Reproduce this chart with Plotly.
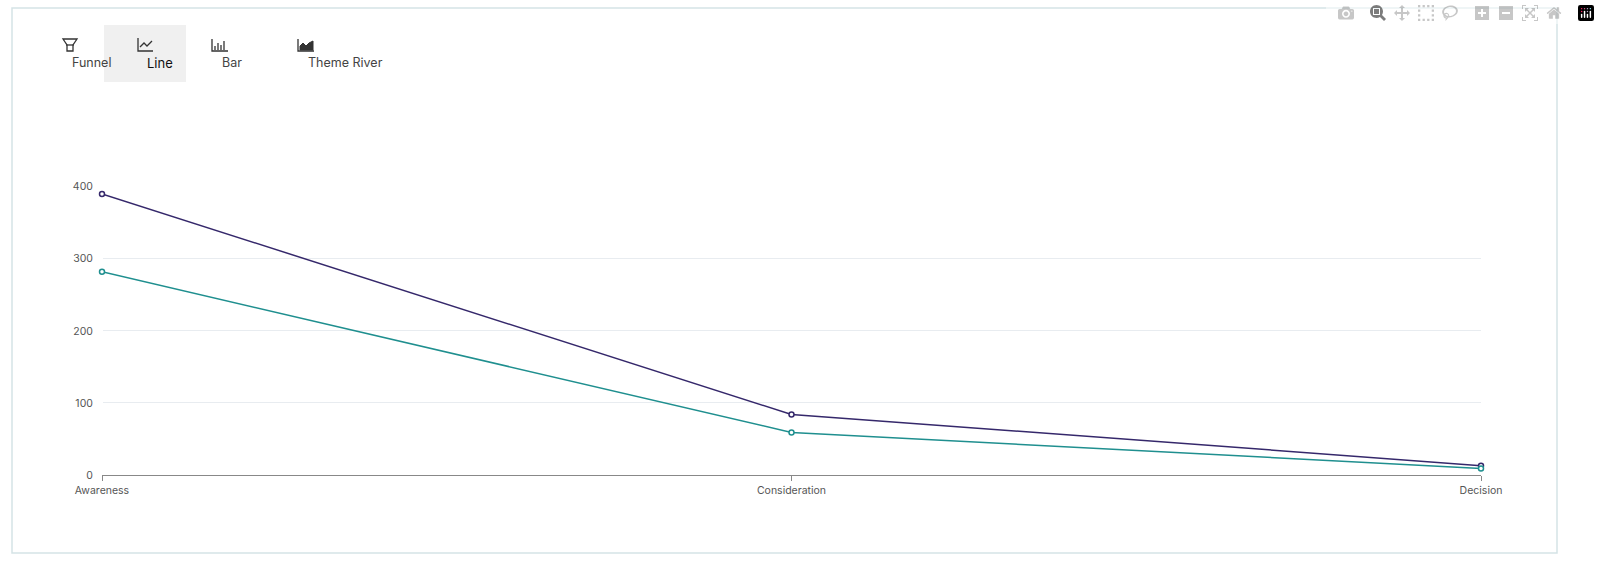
import plotly.graph_objects as go

categories = ["Awareness", "Consideration", "Decision"]
series_a = [390, 84, 13]
series_b = [282, 59, 9]
y_ticks = [0, 100, 200, 300, 400]

W, H = 1600, 576
L, R, T, B = 102, 1481, 186, 475
def px(x): return (x - L) / (R - L)
def py(y): return (B - y) / (B - T)
def path(pts, close=False):
    s = "M" + " L".join(f"{px(x)},{py(y)}" for x, y in pts)
    return s + (" Z" if close else "")

fig = go.Figure()
for vals, col in [(series_a, "#35286b"), (series_b, "#1f8f8f")]:
    fig.add_trace(go.Scatter(x=list(range(len(categories))), y=vals, mode="lines+markers",
        line=dict(color=col, width=1.5), cliponaxis=False,
        marker=dict(symbol="circle", size=5, color="white", line=dict(color=col, width=1.5)),
        showlegend=False))

shapes = []
shapes.append(dict(type="rect", xref="paper", yref="paper", x0=px(12), x1=px(1557), y0=py(553), y1=py(8),
                   line=dict(color="#d5e3e6", width=1.5), fillcolor="rgba(0,0,0,0)", layer="below"))
shapes.append(dict(type="rect", xref="paper", yref="paper", x0=px(104), x1=px(186), y0=py(82), y1=py(25),
                   line=dict(width=0), fillcolor="#f0f0f0", layer="below"))
ic = dict(type="path", xref="paper", yref="paper", line=dict(color="#333", width=1.3))
shapes.append(dict(ic, path=path([(63,39),(77,39),(73,45),(73,51),(67,51),(67,45)], True)))
shapes.append(dict(ic, path=path([(66,45),(74,45)])))
shapes.append(dict(ic, path=path([(138,38),(138,51),(153,51)])))
shapes.append(dict(ic, path=path([(140,47),(144,43),(147,46),(152,41)])))
shapes.append(dict(ic, path=path([(212,39),(212,51),(228,51)])))
for x, h in [(215,4),(218,7),(221,5),(224,9)]:
    shapes.append(dict(ic, path=path([(x,50),(x,50-h)])))
shapes.append(dict(ic, path=path([(298,39),(298,51),(314,51)])))
shapes.append(dict(type="path", xref="paper", yref="paper", line=dict(color="#333", width=1), fillcolor="#333",
                   path=path([(300,50),(300,46),(303,43),(306,46),(309,43),(313,41),(313,50)], True)))

ann = []
for x, t, c in [(70,"Funnel","#444"),(145,"Line","#111"),(220,"Bar","#444"),(306,"Theme River","#444")]:
    ann.append(dict(xref="paper", yref="paper", x=px(x), y=py(63), yanchor="middle", text=t, showarrow=False,
                    font=dict(size=13 if t=="Line" else 12.5, color=c, family="Inter, Noto Sans, sans-serif")))

fig.update_layout(width=W, height=H, margin=dict(l=L, r=W-R, t=T, b=H-B),
    paper_bgcolor="white", plot_bgcolor="white", shapes=shapes, annotations=ann,
    font=dict(family="Inter, Noto Sans, sans-serif", size=11, color="#555"),
    xaxis=dict(range=[0, 2], tickvals=[0,1,2], ticktext=categories, showgrid=False,
               showline=True, linecolor="#888", ticks="outside", ticklen=5, tickcolor="#888",
               tickfont=dict(size=10.5, color="#555")),
    yaxis=dict(range=[0, 401], tickvals=y_ticks, gridcolor="#e8ecf0", zeroline=False,
               showline=False, tickfont=dict(size=10.5, color="#555"), ticklen=6, ticks="outside", tickcolor="white"))
fig.write_html("out.html")
with open("out.html", encoding="utf-8") as f:
    html = f.read()
html = html.replace("<head>", "<head><style>html,body{margin:0;padding:0;overflow:hidden}</style>", 1)
with open("out.html", "w", encoding="utf-8") as f:
    f.write(html)
